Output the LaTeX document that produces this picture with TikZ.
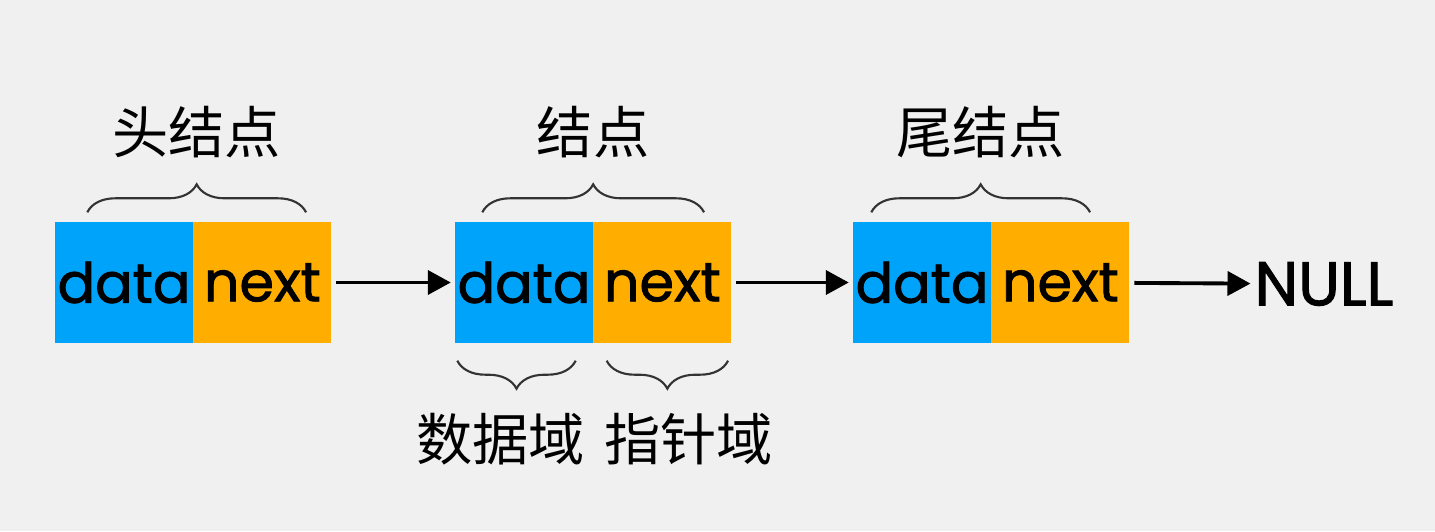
\documentclass[tikz,border=0pt]{standalone}
\usepackage{fontspec}
\setmainfont{Poppins}
\newfontfamily\medfont[FakeBold=1.6]{Poppins}
\newfontfamily\cjk{Noto Sans CJK SC}
\usepackage{tikz}
\usetikzlibrary{arrows.meta, positioning, decorations.pathreplacing, calc}

\definecolor{bgGray}{HTML}{F0F0F0}
\definecolor{dataBlue}{HTML}{00A3FA}
\definecolor{nextOrange}{HTML}{FFAE00}

\begin{document}
\begin{tikzpicture}[
    field/.style={minimum width=1.38cm, minimum height=1.21cm, inner sep=0pt, font=\medfont\fontsize{15.8}{16}\selectfont},
    datafield/.style={field, fill=dataBlue},
    nextfield/.style={field, fill=nextOrange},
    arr/.style={-{Triangle[length=2.3mm, width=2.4mm]}, line width=1.1pt, shorten <=1.2pt, shorten >=1pt},
    brace/.style={decorate, decoration={brace, amplitude=0.28cm}, line width=0.6pt, draw=black!80},
    title/.style={font=\cjk\fontsize{16}{16}\selectfont}
]

\fill[bgGray] (0,0) rectangle (14.35,-5.31);
\useasboundingbox (0,0) rectangle (14.35,-5.31);

\node[datafield] (d1) at (1.24,-2.825) {data};
\node[nextfield, right=-0.3pt of d1] (n1) {next};

\node[datafield] (d2) at (5.24,-2.825) {data};
\node[nextfield, right=-0.3pt of d2] (n2) {next};

\node[datafield] (d3) at (9.22,-2.825) {data};
\node[nextfield, right=-0.3pt of d3] (n3) {next};

\node[anchor=west, inner sep=0pt, font=\medfont\fontsize{17.6}{18}\selectfont] (null) at (12.54,-2.84) {NULL};

\draw[arr] (n1) -- (d2);
\draw[arr] (n2) -- (d3);
\draw[arr] (n3) -- (null);

% braces above the nodes
\draw[brace] ([xshift=0.33cm, yshift=0.09cm]d1.north west) -- ([xshift=-0.26cm, yshift=0.09cm]n1.north east)
    node[midway, above=0.42cm, title] (h1) {头结点};
\draw[brace] ([xshift=0.28cm, yshift=0.09cm]d2.north west) -- ([xshift=-0.28cm, yshift=0.09cm]n2.north east)
    node[midway, above=0.42cm, title] (h2) {结点};
\draw[brace] ([xshift=0.19cm, yshift=0.09cm]d3.north west) -- ([xshift=-0.40cm, yshift=0.09cm]n3.north east)
    node[midway, above=0.42cm, title] (h3) {尾结点};

% braces below the middle node
\draw[brace] ([xshift=-0.18cm, yshift=-0.17cm]d2.south east) -- ([xshift=0.03cm, yshift=-0.17cm]d2.south west)
    node[midway, below=0.40cm, xshift=-0.16cm, title] (f1) {数据域};
\draw[brace] ([xshift=-0.04cm, yshift=-0.17cm]n2.south east) -- ([xshift=0.14cm, yshift=-0.17cm]n2.south west)
    node[midway, below=0.40cm, xshift=0.21cm, title] (f2) {指针域};

\end{tikzpicture}
\end{document}
